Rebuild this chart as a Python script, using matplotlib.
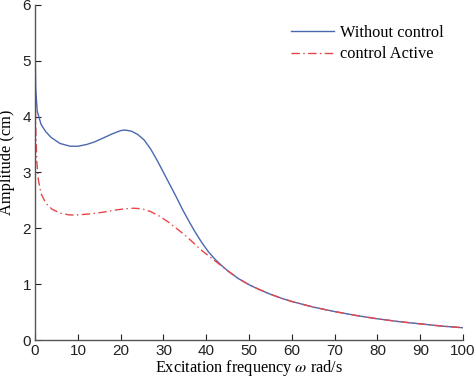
import matplotlib
matplotlib.use('Agg')
import matplotlib.pyplot as plt

freq_no = [0, 0.15, 0.5, 1.4, 2.5, 3.7, 5.8, 8.2, 10, 12, 14, 16, 18, 20, 21, 22.5,
           24, 25.5, 27, 28.5, 30, 31.5, 33, 34.5, 36, 37.5, 39, 40.5, 42, 43.5,
           45, 47.5, 50, 52.5, 55, 57.5, 60, 65, 70, 75, 80, 85, 90, 95, 100]
amp_no = [5.3, 4.5, 4.1, 3.86, 3.73, 3.63, 3.52, 3.47, 3.47, 3.5, 3.55, 3.62, 3.69,
          3.75, 3.76, 3.74, 3.68, 3.58, 3.42, 3.22, 3.0, 2.78, 2.56, 2.33, 2.12,
          1.92, 1.74, 1.58, 1.45, 1.34, 1.24, 1.1, 0.99, 0.9, 0.82, 0.75, 0.69,
          0.59, 0.51, 0.44, 0.38, 0.33, 0.29, 0.25, 0.22]

freq_act = [0, 0.15, 0.4, 0.8, 1.4, 2.5, 4, 6, 8, 10, 13, 16, 19, 21, 23, 25, 27,
            29, 31, 33, 35, 37, 39, 41, 43, 45, 47.5, 50, 52.5, 55, 57.5, 60, 65,
            70, 75, 80, 85, 90, 95, 100]
amp_act = [4.7, 3.8, 3.2, 2.85, 2.62, 2.45, 2.34, 2.27, 2.24, 2.24, 2.26, 2.29,
           2.33, 2.35, 2.36, 2.35, 2.3, 2.22, 2.12, 2.0, 1.88, 1.74, 1.6, 1.48,
           1.36, 1.24, 1.1, 0.99, 0.9, 0.82, 0.75, 0.69, 0.59, 0.51, 0.44, 0.38,
           0.33, 0.29, 0.25, 0.22]

xticks = list(range(0, 101, 10))
yticks = list(range(0, 7))

plt.rcParams['mathtext.fontset'] = 'stix'

fig = plt.figure(figsize=(4.74, 3.77), dpi=100)
ax = fig.add_axes([0.074, 0.098, 0.903, 0.889])

ax.plot(freq_no, amp_no, color='#4a68b0', lw=1.0, label='Without control')
ax.plot(freq_act, amp_act, color='#e8474a', lw=1.0, ls=(0, (6, 2.5, 1, 2.5)),
        label='control Active')

ax.set_xlim(0, 100)
ax.set_ylim(0, 6)
ax.set_xticks(xticks)
ax.set_yticks(yticks)
ax.tick_params(direction='in', length=4, labelsize=11, colors='#222222', pad=3)
for lbl in ax.get_xticklabels() + ax.get_yticklabels():
    lbl.set_family('Liberation Sans')

ax.spines['top'].set_visible(False)
ax.spines['right'].set_visible(False)
for s in ['left', 'bottom']:
    ax.spines[s].set_color('#555555')
    ax.spines[s].set_linewidth(1.0)

ax.set_xlabel(r'Excitation frequency $\omega$ rad/s', family='Liberation Serif',
              fontsize=11.7, labelpad=0)
ax.set_ylabel('Amplitude (cm)', family='Liberation Serif', fontsize=11.8)
ax.yaxis.set_label_coords(-0.047, 0.531)

leg = ax.legend(loc='upper right', bbox_to_anchor=(0.99, 0.985), frameon=False,
                prop={'family': 'Liberation Serif', 'size': 11.8},
                handlelength=2.6, handletextpad=0.4, labelspacing=0.35)

plt.savefig('out.png', dpi=100)
